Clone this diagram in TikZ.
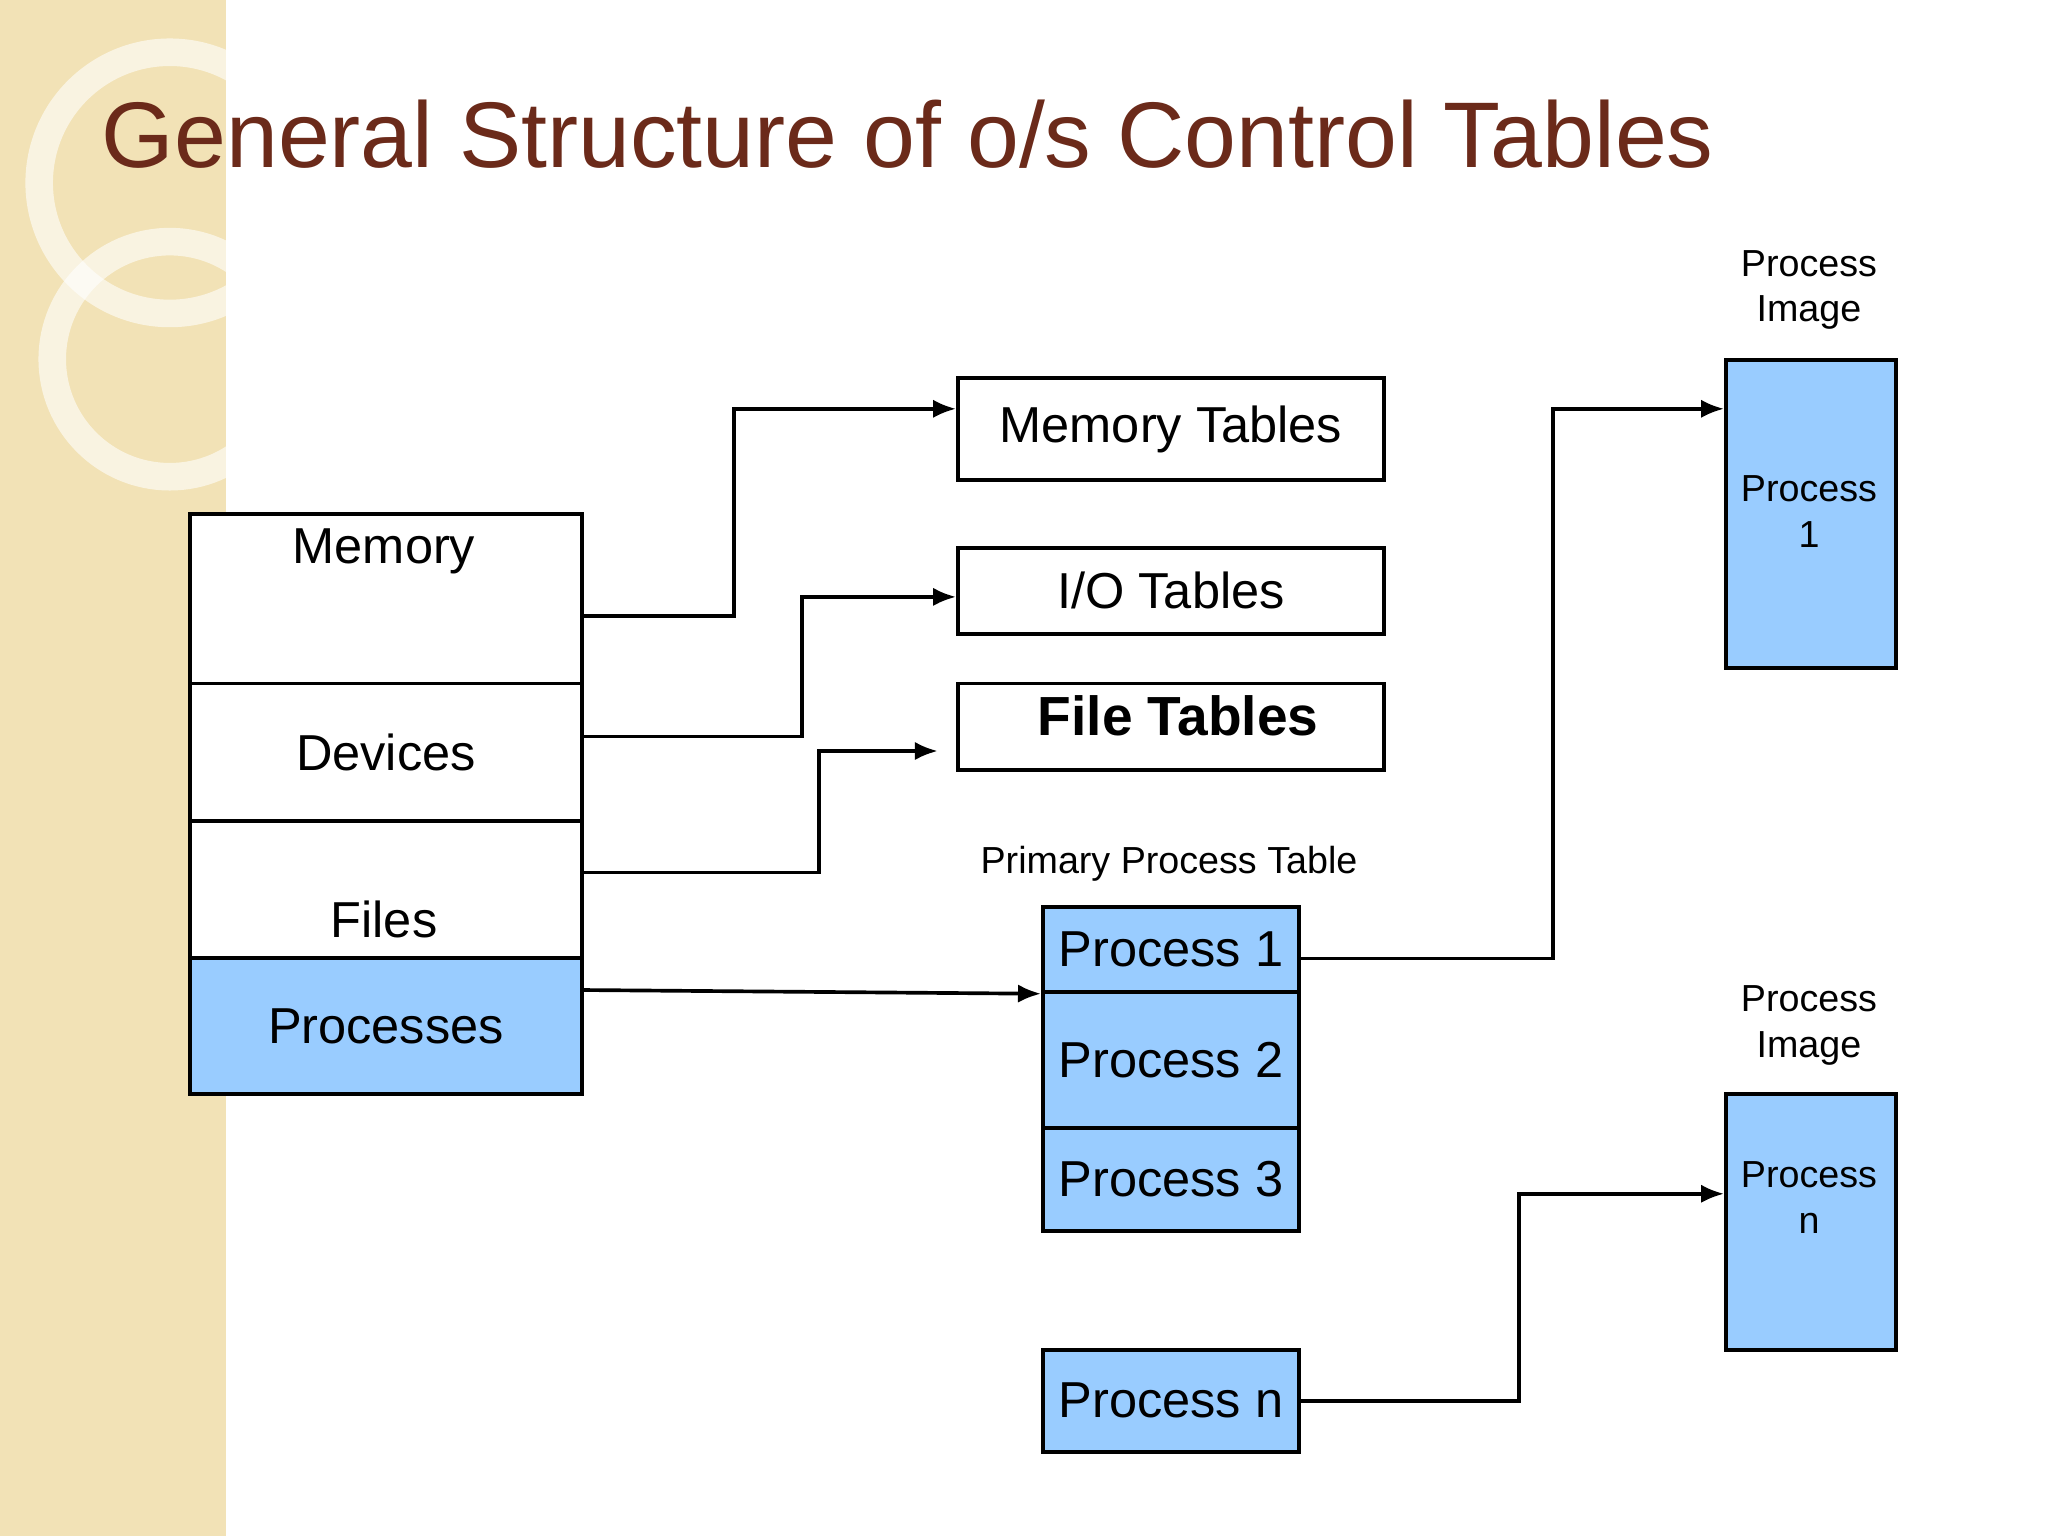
\documentclass[tikz,border=0pt]{standalone}
\usepackage{fontspec}
\setmainfont{Liberation Sans}
\usetikzlibrary{arrows.meta}
\definecolor{beige}{HTML}{F2E2B6}
\definecolor{titlec}{HTML}{6B2A1A}
\definecolor{pblue}{HTML}{99CCFF}
\begin{document}
\begin{tikzpicture}[x=0.01cm,y=-0.01cm,
  box/.style={draw,thick,inner sep=0pt,align=center},
  link/.style={thick,-{Latex[length=5pt,width=4pt]}},
  big/.style={font=\fontsize{11}{13}\selectfont},
  small/.style={font=\fontsize{8.2}{10}\selectfont,align=center}]
\useasboundingbox (0,0) rectangle (1568,1176);
\fill[beige] (0,0) rectangle (173,1176);
\draw[white,line width=6pt,opacity=0.6] (130,140) circle (100);
\draw[white,line width=6pt,opacity=0.6] (130,275) circle (90);
\node[titlec,font=\fontsize{20.3}{24}\selectfont] (title) at (695,103) {General Structure of o/s Control Tables};
% left stack
\node[box,minimum width=3cm,minimum height=1.3cm,anchor=north west,fill=white] (mem) at (144,392) {};
\node[big] at (294,422) {Memory};
\node[box,minimum width=3cm,minimum height=1.05cm,anchor=north west,fill=white,big] (dev) at (144,522) {Devices};
\node[box,minimum width=3cm,minimum height=1.05cm,anchor=north west,fill=white] (fil) at (144,627) {};
\node[big] at (294,704) {Files};
\node[box,minimum width=3cm,minimum height=1.04cm,anchor=north west,fill=pblue,big] (prc) at (144,732) {Processes};
% tables
\node[box,minimum width=3.26cm,minimum height=0.78cm,anchor=north west,big] (mt) at (732,288) {Memory Tables};
\node[box,minimum width=3.26cm,minimum height=0.66cm,anchor=north west,big] (io) at (732,418) {I/O Tables};
\node[box,minimum width=3.26cm,minimum height=0.66cm,anchor=north west] (ft) at (732,522) {};
\node[font=\bfseries\fontsize{12}{14}\selectfont] at (902,548) {File Tables};
% primary process table
\node[small] (ppt) at (895,661) {Primary Process Table};
\node[box,minimum width=1.96cm,minimum height=0.65cm,anchor=north west,fill=pblue,big] (p1) at (797,693) {Process 1};
\node[box,minimum width=1.96cm,minimum height=1.04cm,anchor=north west,fill=pblue,big] (p2) at (797,758) {Process 2};
\node[box,minimum width=1.96cm,minimum height=0.79cm,anchor=north west,fill=pblue,big] (p3) at (797,862) {Process 3};
\node[box,minimum width=1.96cm,minimum height=0.78cm,anchor=north west,fill=pblue,big] (pn) at (797,1032) {Process n};
% process images
\node[small] (l1) at (1385,222) {Process\\Image};
\node[box,minimum width=1.3cm,minimum height=2.36cm,anchor=north west,fill=pblue] (im1) at (1320,274) {};
\node[small] at (1385,392) {Process\\1};
\node[small] (l2) at (1385,785) {Process\\Image};
\node[box,minimum width=1.3cm,minimum height=1.96cm,anchor=north west,fill=pblue] (im2) at (1320,836) {};
\node[small] at (1385,917) {Process\\n};
% connectors
\coordinate (fend) at (718,575);
\draw[link] ([yshift=-0.13cm]mem.east) -| (562,313) -- (mt.west |- 0,313);
\draw[link] ([yshift=0.12cm]dev.east) -| (614,457) -- (io.west |- 0,457);
\draw[link] ([yshift=0.13cm]fil.east) -| (627,575) -- (fend);
\draw[link] (prc.east |- 0,758) -- (p1.south west);
\draw[link] ([yshift=-0.07cm]p1.east) -| (1189,313) -- (im1.west |- 0,313);
\draw[link] (pn.east) -| (1163,914) -- (im2.west |- 0,914);
\end{tikzpicture}
\end{document}
